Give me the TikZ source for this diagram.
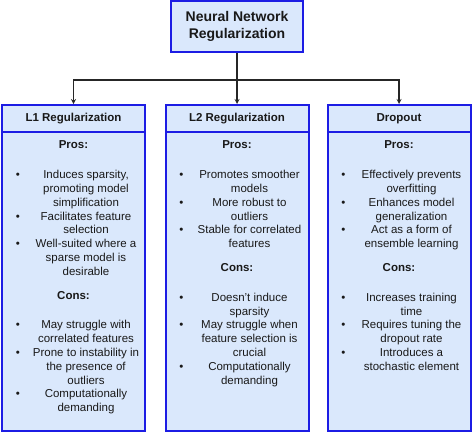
\documentclass[tikz,border=0pt]{standalone}
\usepackage{fontspec}
\setmainfont{Liberation Sans}
\usetikzlibrary{shapes.geometric, arrows}
\definecolor{boxfill}{HTML}{DAE8FC}
\definecolor{boxline}{HTML}{1C1CE4}
\tikzstyle{title} = [rectangle, minimum width=132pt, minimum height=51pt, text centered, align=center, draw=boxline, line width=2pt, fill=boxfill, font=\fontsize{14}{16.5}\selectfont\bfseries]
\tikzstyle{header} = [rectangle, minimum width=143pt, minimum height=27pt, text centered, draw=boxline, line width=2pt, fill=boxfill, font=\fontsize{11.5}{13.8}\selectfont\bfseries]
\tikzstyle{body} = [rectangle, inner sep=0pt, draw=boxline, line width=2pt, fill=boxfill]
\tikzstyle{arrow} = [line width=1.2pt,->,>=stealth, draw=black!85]

\newcommand{\colbody}[1]{\parbox[c][299pt][t]{143pt}{\fontsize{11.5}{13.8}\selectfont\lineskip=0pt\lineskiplimit=0pt\vspace*{7.3pt}#1}}
\newcommand{\sechead}[1]{\par\noindent\makebox[\linewidth][c]{\strut\bfseries #1}\par}
\newcommand{\bitem}[1]{\par\noindent\hspace*{13pt}\makebox[6pt][c]{\textbullet}\hspace*{8pt}\parbox[t]{114pt}{\centering\strut #1\strut}\par}

\begin{document}
\begin{tikzpicture}[node distance=92pt, text=black!90]
\useasboundingbox (0,0) rectangle (474pt,-434pt);
\node (title) [title] at (237pt,-26.5pt) {Neural Network\\Regularization};
\node (head2) [header, below of=title] {L2 Regularization};
\node (head1) [header, left of=head2, xshift=-71.5pt] {L1 Regularization};
\node (head3) [header, right of=head2, xshift=70pt] {Dropout};

% column bodies
\node (body1) [body, below of=head1, yshift=-71pt] {\colbody{%
  \sechead{Pros:}\vspace{16pt}
  \bitem{Induces sparsity,\\ promoting model\\ simplification}
  \bitem{Facilitates feature\\ selection}
  \bitem{Well-suited where a\\ sparse model is\\ desirable}
  \vspace{10pt}\sechead{Cons:}\vspace{16pt}
  \bitem{May struggle with\\ correlated features}
  \bitem{Prone to instability in\\ the presence of\\ outliers}
  \bitem{Computationally\\ demanding}}};
\node (body2) [body, below of=head2, yshift=-71pt] {\colbody{%
  \sechead{Pros:}\vspace{16pt}
  \bitem{Promotes smoother\\ models}
  \bitem{More robust to\\ outliers}
  \bitem{Stable for correlated\\ features}
  \vspace{10pt}\sechead{Cons:}\vspace{16pt}
  \bitem{Doesn't induce\\ sparsity}
  \bitem{May struggle when\\ feature selection is\\ crucial}
  \bitem{Computationally\\ demanding}}};
\node (body3) [body, below of=head3, yshift=-71pt] {\colbody{%
  \sechead{Pros:}\vspace{16pt}
  \bitem{Effectively prevents\\ overfitting}
  \bitem{Enhances model\\ generalization}
  \bitem{Act as a form of\\ ensemble learning}
  \vspace{10pt}\sechead{Cons:}\vspace{16pt}
  \bitem{Increases training\\ time}
  \bitem{Requires tuning the\\ dropout rate}
  \bitem{Introduces a\\ stochastic element}}};

\draw [arrow] (title) -- (head2);
\draw [arrow] (title.south) -- ++(0,-27pt) -| (head1.north);
\draw [arrow] (title.south) -- ++(0,-27pt) -| (head3.north);
\end{tikzpicture}
\end{document}
